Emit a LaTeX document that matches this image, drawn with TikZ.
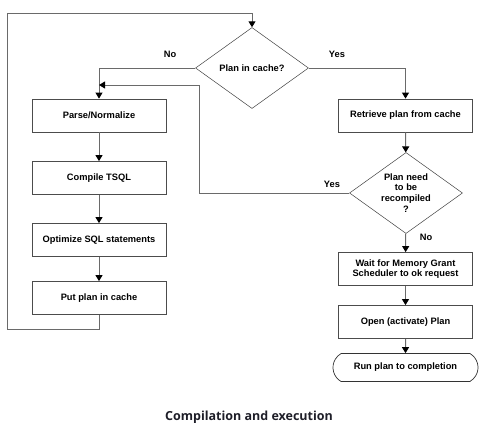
\documentclass[tikz,border=0pt]{standalone}
\usepackage{fontspec}
\setmainfont{Liberation Sans}
\newfontfamily\capfont{Open Sans}
\usetikzlibrary{shapes.geometric,shapes.misc,arrows.meta}
\definecolor{linec}{HTML}{6A6A6A}
\definecolor{capc}{HTML}{1E1E28}
\begin{document}
\begin{tikzpicture}[x=1pt,y=-1pt,
  every node/.style={font=\fontsize{9.3}{10.5}\selectfont\bfseries, inner sep=0pt},
  box/.style={draw=black!70, line width=0.8pt, minimum width=134pt, minimum height=33pt, align=center},
  dec/.style={draw=black!75, line width=0.5pt, diamond, minimum width=113pt, minimum height=81pt, inner sep=0pt},
  term/.style={draw=black!80, line width=0.7pt, rounded rectangle, rounded rectangle arc length=120, minimum width=145pt, minimum height=28pt},
  conn/.style={draw=linec, line width=1pt},
  arr/.style={conn, -{Triangle[length=6pt,width=7pt,color=black]}},
  lbl/.style={font=\fontsize{9.3}{10.5}\selectfont\bfseries}]
\useasboundingbox (0,0) rectangle (503,445);
% decisions
\node[dec, label={center:Plan in cache?}] (d1) at (252,68) {};
\node[dec, label={[align=center,font=\fontsize{9.3}{10.8}\selectfont\bfseries]center:Plan need\\to be\\recompiled\\?}] (d2) at (406,193) {};
% left column
\node[box] (p) at (99,115.5) {Parse/Normalize};
\node[box] (c) at (99,178) {Compile TSQL};
\node[box] (o) at (99,240) {Optimize SQL statements};
\node[box] (pc) at (99,298) {Put plan in cache};
% right column
\node[box] (r) at (405.5,115.5) {Retrieve plan from cache};
\node[box] (w) at (405.5,269) {Wait for Memory Grant\\Scheduler to ok request};
\node[box] (op) at (405.5,322) {Open (activate) Plan};
\node[term] (run) at (405.5,367.5) {Run plan to completion};
% coordinates
\coordinate (lt) at (7,13);
\coordinate (lb) at (7,329);
\coordinate (ls) at (99,329);
\coordinate (tt) at (252,13);
\coordinate (ra) at (199,85);
\coordinate (rb) at (199,193);
\coordinate (re) at (99,85);
% connectors
\draw[arr] (d1.west) -| (p.north);
\draw[arr] (d1.east) -| (r.north);
\draw[arr] (p) -- (c);
\draw[arr] (c) -- (o);
\draw[arr] (o) -- (pc);
\draw[arr] (pc.south) -- (ls) -- (lb) -- (lt) -- (tt) -- (d1.north);
\draw[arr] (d2.west) -- (rb) -- (ra) -- (re);
\draw[arr] (r) -- (d2);
\draw[arr] (d2) -- (w);
\draw[arr] (w) -- (op);
\draw[arr] (op) -- (run);
% labels
\node[lbl] (no1) at (170,54) {No};
\node[lbl] (yes1) at (337,54) {Yes};
\node[lbl] (yes2) at (332,184) {Yes};
\node[lbl] (no2) at (426,237) {No};
% caption
\node[font=\capfont\fontsize{12.5}{14}\selectfont\bfseries, text=capc] (cap) at (249,417) {Compilation and execution};
\end{tikzpicture}
\end{document}
